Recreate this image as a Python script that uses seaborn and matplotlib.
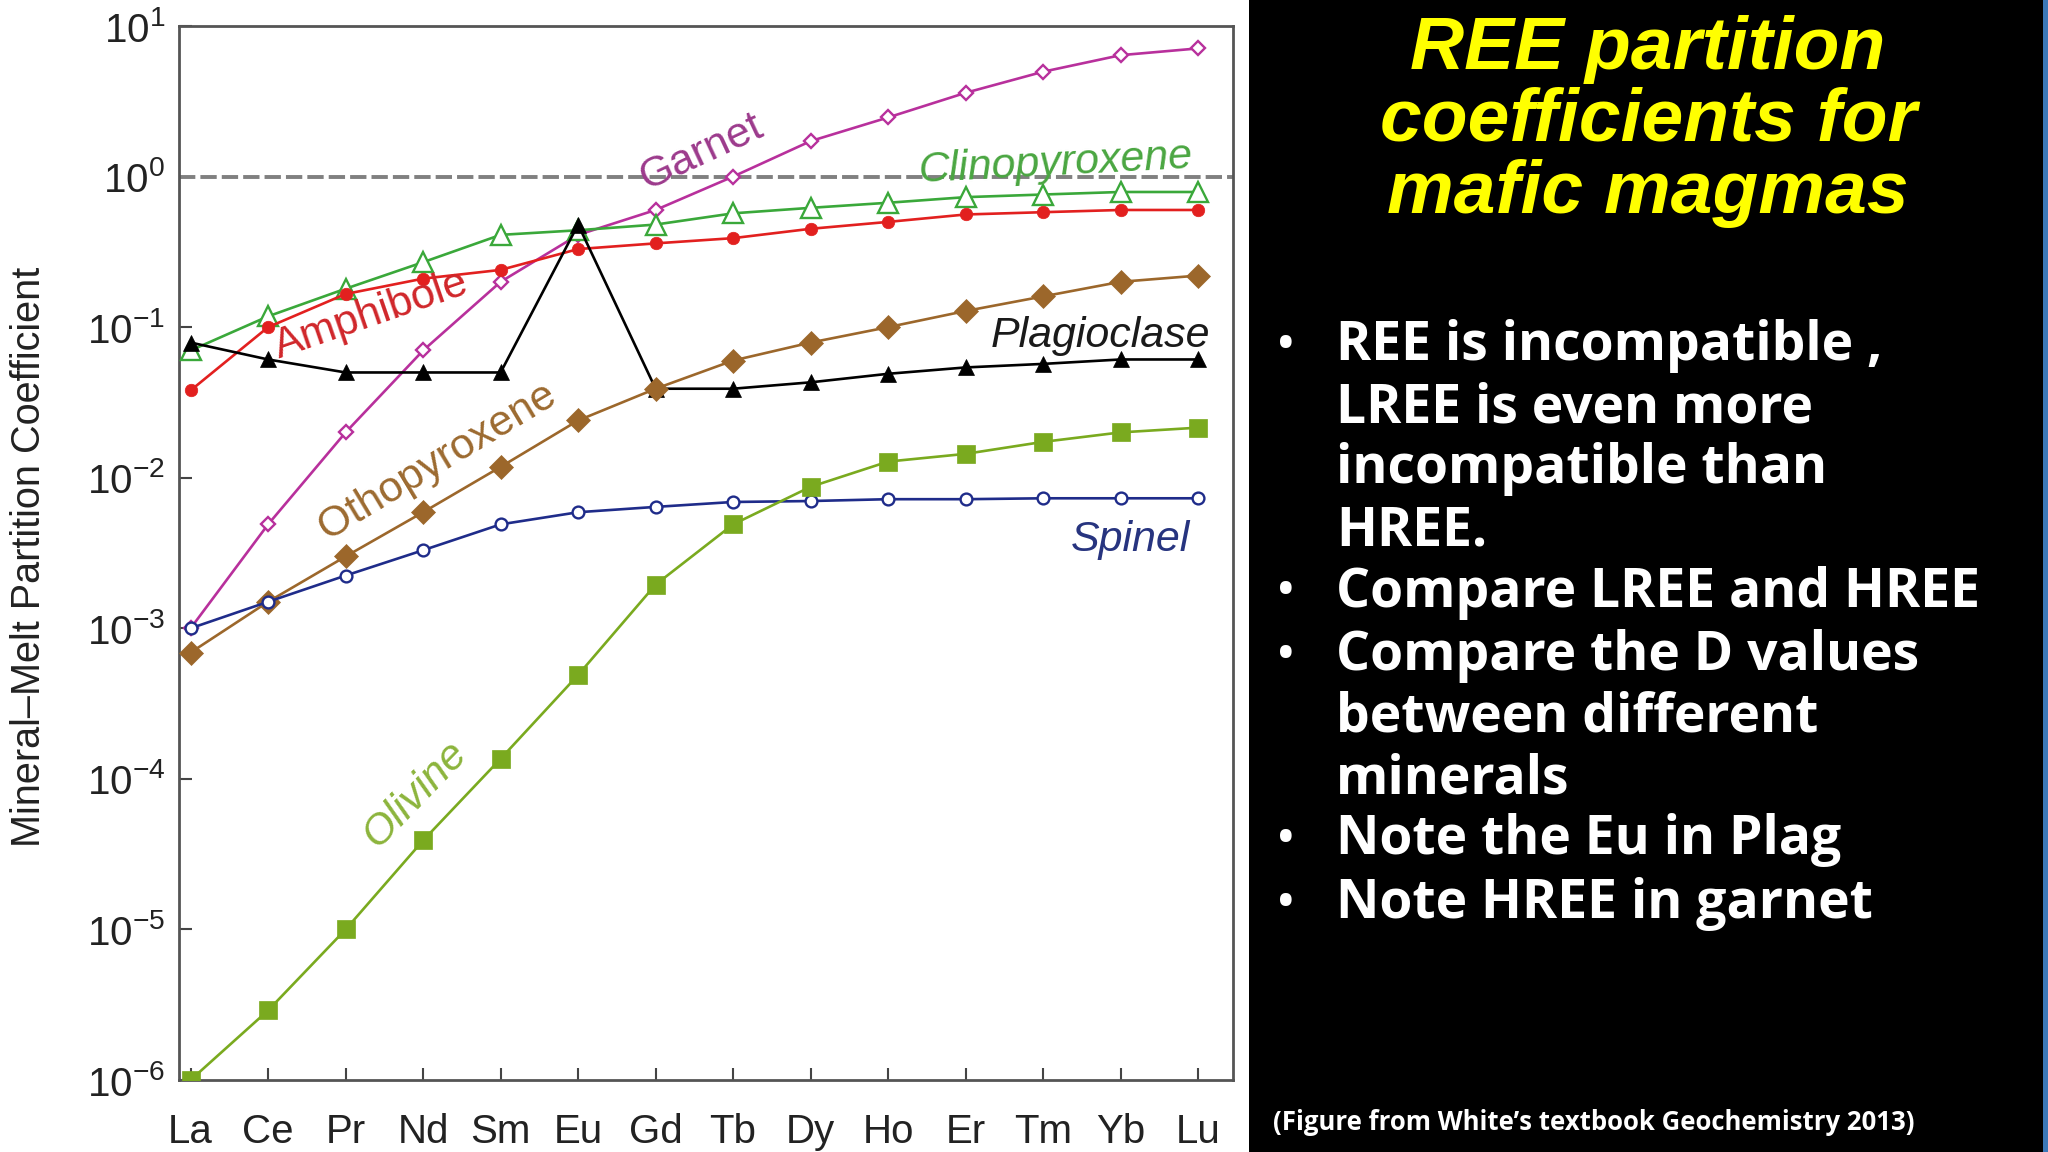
import numpy as np
import pandas as pd
import matplotlib.pyplot as plt
import seaborn as sns
from matplotlib.patches import Rectangle

sns.set_theme(style="ticks")
plt.rcParams['font.family'] = ['Liberation Sans', 'DejaVu Sans']
plt.rcParams['mathtext.fontset'] = 'custom'
plt.rcParams['mathtext.rm'] = 'Liberation Sans'
plt.rcParams['mathtext.it'] = 'Liberation Sans:italic'

#%% data
elements = ["La", "Ce", "Pr", "Nd", "Sm", "Eu", "Gd", "Tb", "Dy", "Ho", "Er", "Tm", "Yb", "Lu"]

garnet = [0.001, 0.0049, 0.020, 0.070, 0.20, 0.41, 0.60, 1.0, 1.72, 2.47, 3.6, 4.97, 6.4, 7.1]
clinopyroxene = [0.07, 0.118, 0.18, 0.27, 0.41, 0.44, 0.48, 0.57, 0.62, 0.67, 0.73, 0.76, 0.79, 0.79]
amphibole = [0.038, 0.10, 0.166, 0.21, 0.24, 0.33, 0.36, 0.39, 0.45, 0.50, 0.56, 0.58, 0.60, 0.60]
plagioclase = [0.079, 0.061, 0.05, 0.05, 0.05, 0.48, 0.039, 0.039, 0.043, 0.049, 0.054, 0.057, 0.061, 0.061]
orthopyroxene = [0.00069, 0.0015, 0.003, 0.0059, 0.0118, 0.024, 0.039, 0.06, 0.079, 0.10, 0.128, 0.16, 0.20, 0.22]
spinel = [0.001, 0.0015, 0.00224, 0.0033, 0.0049, 0.0059, 0.0064, 0.0069, 0.007, 0.0072, 0.0072, 0.0073, 0.0073, 0.0073]
olivine = [1.0e-6, 2.9e-6, 1.0e-5, 3.9e-5, 1.36e-4, 4.9e-4, 0.00195, 0.0049, 0.0087, 0.0128, 0.0144, 0.0173, 0.020, 0.0215]

title_lines = ["REE partition", "coefficients for", "mafic magmas"]
bullets = ["REE is incompatible ,", "LREE is even more", "incompatible than", "HREE.",
           "Compare LREE and HREE", "Compare the D values", "between different", "minerals",
           "Note the Eu in Plag", "Note HREE in garnet"]
bullet_first = [True, False, False, False, True, True, False, False, True, True]

#%% styles
series = [
    # name, values, colour, marker, size, filled
    ("Garnet", garnet, "#b8309c", "D", 7.5, False),
    ("Clinopyroxene", clinopyroxene, "#3aa83a", "^", 15, False),
    ("Amphibole", amphibole, "#e2201f", "o", 9, True),
    ("Plagioclase", plagioclase, "#000000", "^", 11.5, True),
    ("Othopyroxene", orthopyroxene, "#9c672b", "D", 12, True),
    ("Spinel", spinel, "#1f2c8a", "o", 8.5, False),
    ("Olivine", olivine, "#7aaa1f", "s", 12.5, True),
]

fig = plt.figure(figsize=(20.48, 11.52), dpi=100)
fig.patch.set_facecolor("white")
ax = fig.add_axes([179/2048, 1-1080/1152, (1233-179)/2048, (1080-26)/1152])

ax.axhline(1.0, color="#808080", lw=2.8, ls=(0, (4.2, 1.3)), zorder=1)

for name, vals, col, mk, ms, filled in series:
    df = pd.DataFrame({"x": np.arange(len(elements)), "D": vals})
    sns.lineplot(data=df, x="x", y="D", ax=ax, color=col, lw=1.9,
                 marker=mk, markersize=ms, markeredgewidth=1.7 if not filled else 0.5,
                 markerfacecolor=col if filled else "white",
                 markeredgecolor=col, zorder=3)

ax.set_yscale("log")
ax.set_ylim(1e-6, 10)
ax.set_xlim(-0.15, 13.45)
ax.set_yticks([1e-6, 1e-5, 1e-4, 1e-3, 1e-2, 1e-1, 1, 10])
ax.minorticks_off()
ax.set_xticks(np.arange(len(elements)))
ax.set_xticklabels(elements)
ax.set_xlabel("")
ax.set_ylabel("")
ax.tick_params(direction="in", length=9, width=1.5, color="#444444",
               labelsize=29, labelcolor="#222222")
ax.tick_params(axis="x", pad=24)
ax.tick_params(axis="y", pad=10)
for s in ax.spines.values():
    s.set_visible(True)
    s.set_color("#555555")
    s.set_linewidth(2)

# curve labels
lab_kw = dict(ha="center", va="center", fontsize=31)
ax.text(6.6, 1.45, "Garnet", color="#9c3a8c", rotation=25, **lab_kw)
ax.text(11.16, 1.22, "Clinopyroxene", color="#4aa641", rotation=3, style="italic", **lab_kw)
ax.text(2.33, 0.12, "Amphibole", color="#d0262a", rotation=19, **lab_kw)
ax.text(11.74, 0.087, "Plagioclase", color="#1a1a1a", style="italic", **lab_kw)
ax.text(3.19, 0.0128, "Othopyroxene", color="#9c6a30", rotation=31, **lab_kw)
ax.text(12.12, 0.00385, "Spinel", color="#27347f", style="italic", **lab_kw)
ax.text(2.9, 0.000079, "Olivine", color="#8cb43c", rotation=46, style="italic", **lab_kw)

fig.text(0.014, 1-557/1152, "Mineral\u2013Melt Partition Coefficient", rotation=90,
         ha="center", va="center", fontsize=28.5, color="#222222")

#%% right hand text panel
fig.patches.append(Rectangle((1249/2048, 0), (2043-1249)/2048, 1, transform=fig.transFigure,
                             facecolor="black", edgecolor="none", zorder=0))
fig.patches.append(Rectangle((2043/2048, 0), 5/2048, 1, transform=fig.transFigure,
                             facecolor="#3b78b8", edgecolor="none", zorder=0))

for txt, yy in zip(title_lines, [50, 121, 193]):
    fig.text(1648/2048, 1-yy/1152, txt, ha="center", va="center", fontsize=54,
             color="#ffff00", weight="bold", style="italic")

line_y = [346, 408, 469, 531, 593, 656, 717, 779, 840, 904]
for txt, yy, first in zip(bullets, line_y, bullet_first):
    fig.text(1336/2048, 1-yy/1152, txt, ha="left", va="center", fontsize=38.5,
             color="white", weight="bold", family="Open Sans")
    if first:
        fig.text(1286/2048, 1-yy/1152, "\u2022", ha="center", va="center", fontsize=30,
                 color="white", weight="bold", family="Open Sans")

fig.text(1273/2048, 1-1123/1152, "(Figure from White\u2019s textbook Geochemistry 2013)",
         ha="left", va="center", fontsize=18.5, color="white", weight="bold", family="Open Sans")

plt.savefig("out.png", dpi=100)
